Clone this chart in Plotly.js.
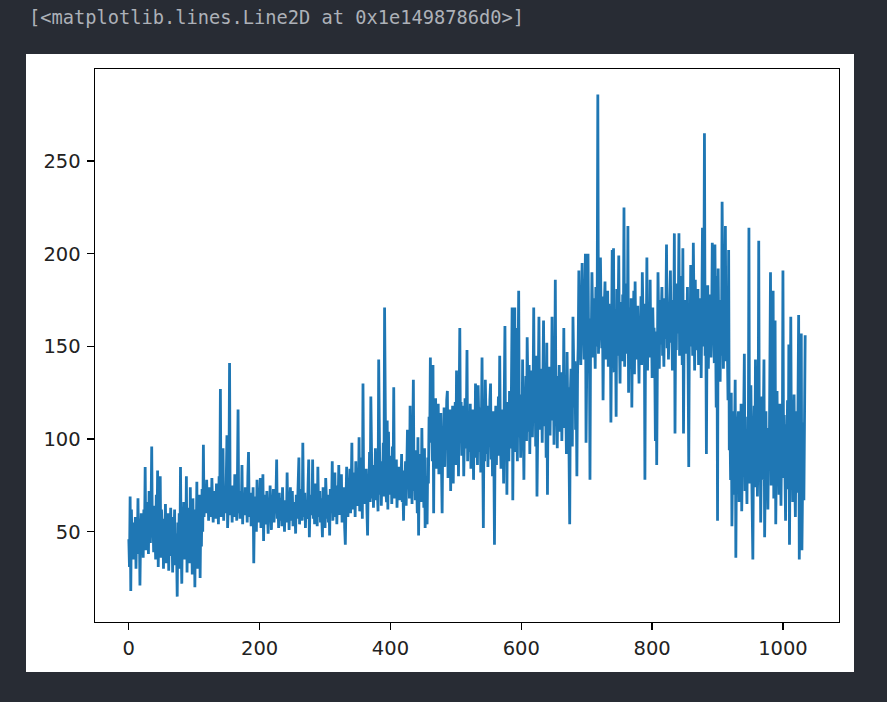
<!DOCTYPE html>
<html><head><meta charset="utf-8">
<script src="https://cdn.plot.ly/plotly-3.0.1.min.js"></script>
<style>
html,body{margin:0;padding:0;background:#282c34;width:887px;height:702px;overflow:hidden;}
#out{position:absolute;left:29px;top:8px;font-family:"DejaVu Sans Mono",monospace;font-size:18.7px;color:#adb1b8;white-space:pre;line-height:20px;}
#fig{position:absolute;left:26px;top:54px;width:828px;height:618px;background:#fff;}
</style></head><body>
<div id="out">[&lt;matplotlib.lines.Line2D at 0x1e1498786d0&gt;]</div>
<div id="fig"></div>
<script>
// values, in index order (0 .. 1034)
const seg0to119 = [
46,31,69,18,62,40,55,35,50,44,58,30,53,41,68,38,57,21,48,60,
43,55,36,62,47,85,40,58,45,66,38,72,50,44,61,96,47,55,39,64,
52,35,70,46,83,31,58,49,80,36,62,45,54,30,57,48,65,33,50,42,
60,29,55,44,63,37,51,28,58,46,62,32,49,40,15,55,38,60,30,85,
44,22,58,47,66,35,52,40,80,28,56,45,63,33,74,41,50,27,68,38,
57,20,62,44,77,30,55,48,70,25,59,42,73,50,97,58,66,72,60,78];
const seg120to279 = [
63,70,56,74,61,68,58,79,64,55,72,60,67,57,76,62,69,54,80,65,
127,58,73,62,95,56,71,64,60,78,102,52,68,74,141,59,66,70,55,75,
63,58,81,61,69,56,77,116,60,72,57,66,62,86,54,70,64,59,74,61,
67,55,80,93,62,58,71,53,65,60,74,33,63,57,69,50,78,61,55,66,
59,79,52,68,63,81,45,70,58,64,54,72,60,49,67,56,75,62,51,69,
58,73,55,64,60,70,89,57,66,52,71,61,56,68,53,74,59,63,50,67,
62,55,82,58,69,51,64,74,56,60,72,53,66,58,61,49,70,57,65,76,
90,54,68,60,73,56,98,62,58,71,52,67,61,57,75,89,47,64,59,70];
const seg280to439 = [
62,89,57,70,54,76,60,66,53,85,63,58,72,55,68,61,47,74,59,65,
52,79,63,57,70,55,67,48,73,60,64,88,56,71,62,82,58,75,54,69,
65,86,59,72,61,81,55,68,63,74,52,43,66,85,70,58,78,64,84,60,
73,98,62,77,67,82,58,88,70,64,79,66,101,61,75,69,90,57,130,72,
80,65,76,84,62,48,78,71,93,66,123,74,68,86,63,80,72,95,67,83,
75,61,143,79,70,88,64,82,76,98,69,171,85,72,66,110,62,104,78,91,
70,86,65,96,74,128,68,81,76,89,63,79,72,85,67,77,70,92,66,74,
56,83,71,88,64,80,105,73,90,68,118,76,84,65,99,132,72,88,67,94];
const seg440to599 = [
78,60,101,48,85,70,92,66,106,74,88,63,95,52,80,71,54,90,76,112,
98,144,105,118,88,140,60,115,96,122,84,110,93,119,81,108,99,114,87,60,
103,92,117,85,111,97,121,126,79,108,95,116,72,104,89,118,76,110,99,120,
86,137,94,112,80,115,160,98,120,91,107,118,80,103,122,95,110,148,88,114,
101,93,119,84,108,97,116,78,111,90,130,99,112,86,129,104,93,117,82,109,
144,96,52,113,88,132,101,92,118,85,107,96,121,130,89,110,80,115,94,43,
105,118,86,112,99,123,91,145,103,84,116,97,108,76,125,161,92,113,70,120,
100,88,126,107,95,131,171,67,118,104,171,93,160,115,88,137,180,101,124,90];
const seg600to739 = [
118,97,143,108,78,126,112,134,99,155,121,104,140,92,128,115,137,101,124,171,
109,133,96,145,69,117,131,166,105,138,112,126,98,142,164,119,107,135,90,152,
70,128,114,139,102,131,118,166,110,143,97,125,186,113,134,95,129,117,140,104,
123,136,99,127,112,160,106,132,119,92,147,115,128,101,54,124,138,110,96,166,
131,117,142,105,127,80,135,150,191,145,162,140,171,195,152,166,143,175,200,98,
158,172,200,147,165,78,160,153,190,168,144,176,157,138,182,150,170,286,146,163,
155,198,167,149,177,121,160,171,185,143,166,158,180,139,173,152,168,109,161,202];
const seg740to899 = [
148,203,136,170,158,112,181,145,166,199,152,130,174,160,142,178,155,225,139,168,
150,184,146,215,125,171,157,138,176,117,162,149,180,135,185,154,168,143,172,158,
130,166,151,177,140,190,156,146,173,78,161,150,198,137,169,155,144,186,148,165,
133,171,152,160,142,99,158,86,147,190,163,138,175,151,167,182,145,160,139,176,
154,166,205,149,170,143,161,180,191,152,168,137,175,159,211,103,163,148,184,157,
170,211,145,166,152,188,140,203,103,160,175,146,168,155,182,141,85,163,150,194,
156,172,145,206,160,137,186,153,170,148,181,140,165,158,176,133,169,214,150,162,
265,145,171,92,160,183,138,167,152,178,144,163,206,155,170,141,205,160,117,188];
const seg900to1034 = [
56,192,150,175,131,168,145,228,160,138,172,154,215,142,165,152,121,202,94,110,
78,125,53,98,115,70,104,132,36,92,84,108,115,66,100,87,119,61,95,80,
106,146,72,99,88,65,112,83,214,76,101,129,90,58,35,97,118,74,143,86,
104,69,95,207,81,110,55,92,123,78,100,143,47,88,115,71,106,62,96,84,
120,190,75,103,89,180,68,112,164,54,98,126,82,107,70,119,92,64,101,87,
191,79,113,95,56,108,85,121,73,151,43,99,166,88,110,66,103,124,80,58,
97,115,71,106,167,35,92,118,157,40,86,109,67,98,156];

const xTickValues = [0, 200, 400, 600, 800, 1000];
const yTickValues = [50, 100, 150, 200, 250];

const values = [].concat(seg0to119, seg120to279, seg280to439, seg440to599,
                         seg600to739, seg740to899, seg900to1034);
const xIndex = values.map((_, i) => i);

const trace = {
  x: xIndex, y: values, type: 'scatter', mode: 'lines',
  line: {color: '#1f77b4', width: 2.8}, hoverinfo: 'skip'
};

const axisCommon = {
  showgrid: false, zeroline: false, showline: true, mirror: true,
  linecolor: '#000', linewidth: 1.4, ticks: 'outside', ticklen: 7,
  tickwidth: 1.3, tickcolor: '#000',
  tickfont: {family: 'DejaVu Sans, sans-serif', size: 19.5, color: '#222'}
};

const layout = {
  width: 828, height: 618,
  margin: {l: 69, r: 15, t: 15, b: 50},
  paper_bgcolor: '#fff', plot_bgcolor: '#fff',
  showlegend: false,
  xaxis: Object.assign({}, axisCommon, {
    range: [-51.7, 1085.7], tickmode: 'array', tickvals: xTickValues,
    ticktext: xTickValues.map(String), ticklabelstandoff: 1
  }),
  yaxis: Object.assign({}, axisCommon, {
    range: [1.3, 299.7], tickmode: 'array', tickvals: yTickValues,
    ticktext: yTickValues.map(String), ticklabelstandoff: 2
  })
};

Plotly.newPlot('fig', [trace], layout, {staticPlot: true, displayModeBar: false});
</script>
</body></html>
